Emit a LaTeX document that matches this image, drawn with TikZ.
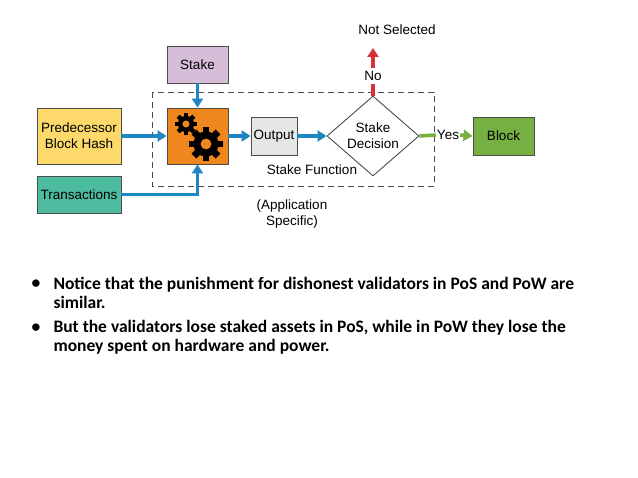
\documentclass[tikz,border=0pt]{standalone}
\usepackage{fontspec}
\setmainfont{Liberation Sans}
\newfontfamily\calfont{Carlito}
\usetikzlibrary{shapes.geometric,arrows.meta}
\definecolor{bl}{HTML}{1F86C4}
\definecolor{yel}{HTML}{FCD96A}
\definecolor{pur}{HTML}{D6BED8}
\definecolor{org}{HTML}{F0861E}
\definecolor{tea}{HTML}{4DBB9E}
\definecolor{gry}{HTML}{E6E6E6}
\definecolor{grn}{HTML}{76B043}
\definecolor{rd}{HTML}{D7313A}
\tikzset{
 box/.style={draw=black!70,line width=0.9pt,minimum width=#1,inner sep=0pt,align=center,font=\fontsize{13.5}{16}\selectfont},
 ar/.style={draw=bl,line width=3.6pt,-{Triangle[length=9pt,width=11pt]}},
 lbl/.style={font=\fontsize{13.5}{16}\selectfont,align=center},
 gear/.pic={\fill[black] (0,0) circle (#1*0.74);
  \foreach \a in {0,45,...,315}{\fill[black,rotate=\a] (-#1*0.2,0) rectangle (#1*0.2,#1);}
  \fill[org] (0,0) circle (#1*0.32);}
}
\begin{document}
\begin{tikzpicture}[x=1pt,y=-1pt]
\useasboundingbox (0,0) rectangle (638,478);
\fill[white] (0,0) rectangle (638,478);
\draw[dashed,dash pattern=on 6pt off 4pt,black!70,line width=0.9pt] (152,92) rectangle (434,186);
\node[box=61pt,minimum height=37pt,fill=pur] (stake) at (197.5,64.5) {Stake};
\node[box=61pt,minimum height=56pt,fill=org] (fn) at (197.5,136) {};
\node[box=84pt,minimum height=56pt,fill=yel] (pred) at (79,136) {Predecessor\\Block Hash};
\node[box=84pt,minimum height=37pt,fill=tea] (tx) at (79,194.5) {Transactions};
\node[box=46pt,minimum height=38pt,fill=gry] (out) at (274,136) {Output};
\node[draw=black!70,line width=0.9pt,diamond,aspect=1.15,minimum width=92pt,minimum height=80pt,inner sep=0pt,align=center,font=\fontsize{13.5}{16}\selectfont] (dec) at (373,136) {Stake\\Decision};
\node[box=61pt,minimum height=38pt,fill=grn] (blk) at (503.5,136) {Block};
\pic at (186,124) {gear=11};
\pic at (206,144) {gear=17};
\draw[ar] (stake) -- (fn);
\draw[ar] (pred) -- (fn);
\draw[ar] (fn) -- (out);
\draw[ar] (out) -- (dec);
\draw[ar] (tx.east) -| (fn.south);
\node[lbl,inner sep=1pt] (yes) at (448,135) {Yes};
\draw[draw=grn,line width=3.6pt] (dec.east) -- (yes.west);
\draw[draw=grn,line width=3.6pt,-{Triangle[length=9pt,width=11pt]}] (yes.east) -- (blk.west);
\node[lbl] (no) at (373,76) {No};
\node[lbl] (ns) at (397,30) {Not Selected};
\draw[draw=rd,line width=3.6pt] (dec.north) -- (no.south);
\draw[draw=rd,line width=3.6pt,-{Triangle[length=9pt,width=11pt]}] (no.north) -- (373,48);
\node[lbl] (sf) at (312,170) {Stake Function};
\node[lbl] (app) at (292,214) {(Application\\Specific)};
\begin{scope}[font=\calfont\bfseries\fontsize{17.5}{19.5}\selectfont]
\node[anchor=west] (b1) at (28,284) {•};
\node[anchor=west,align=left] (t1) at (50,293) {Notice that the punishment for dishonest validators in PoS and PoW are\\similar.};
\node[anchor=west] (b2) at (28,328) {•};
\node[anchor=west,align=left] (t2) at (50,337) {But the validators lose staked assets in PoS, while in PoW they lose the\\money spent on hardware and power.};
\end{scope}
\end{tikzpicture}
\end{document}
